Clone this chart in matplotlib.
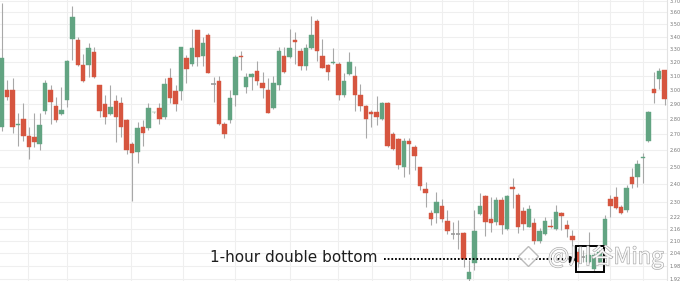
import matplotlib
matplotlib.use("Agg")
import matplotlib.pyplot as plt
import matplotlib.patheffects as pe
from matplotlib.patches import Rectangle
from matplotlib.lines import Line2D
from matplotlib.ticker import FixedLocator, NullLocator, FixedFormatter

# ---------------- data ----------------
opens = [2.75, 3.00, 3.00, 2.76, 2.80, 2.69, 2.685, 2.64, 2.85, 3.00,
         2.89, 2.83, 2.93, 3.38, 3.37, 3.18, 3.18, 3.28, 3.03, 2.90,
         2.83, 2.92, 2.905, 2.79, 2.64, 2.59, 2.75, 2.74, 2.843, 2.875,
         2.81, 3.08, 2.99, 2.99, 3.23, 3.19, 3.45, 3.25, 3.41, 3.038,
         3.06, 2.77, 2.79, 2.96, 3.25, 3.02, 3.09, 3.135, 3.05, 3.00,
         2.87, 3.03, 3.25, 3.24, 3.371, 3.29, 3.17, 3.31, 3.53, 3.25,
         3.18, 3.192, 3.19, 2.96, 3.11, 3.10, 2.96, 2.89, 2.847, 2.847,
         2.80, 2.91, 2.70, 2.67, 2.50, 2.66, 2.62, 2.50, 2.371, 2.241,
         2.241, 2.281, 2.201, 2.137, 2.137, 2.14, 1.918, 1.992, 2.237, 2.334,
         2.211, 2.197, 2.312, 2.158, 2.383, 2.34, 2.255, 2.171, 2.189, 2.101,
         2.134, 2.178, 2.158, 2.241, 2.18, 2.124, 2.047, 2.021, 1.998, 1.965,
         1.998, 2.08, 2.321, 2.33, 2.274, 2.259, 2.44, 2.44, 2.551, 2.658,
         3.004, 3.076, 3.142]
highs = [3.68, 3.07, 3.08, 2.84, 2.91, 2.75, 2.84, 2.84, 3.07, 3.03,
         2.95, 3.02, 3.22, 3.65, 3.395, 3.26, 3.35, 3.32, 3.035, 2.96,
         3.03, 2.96, 2.95, 2.80, 2.65, 2.78, 2.79, 2.905, 2.847, 2.905,
         3.08, 3.155, 3.03, 3.32, 3.255, 3.46, 3.455, 3.40, 3.43, 3.09,
         3.10, 2.78, 3.00, 3.255, 3.29, 3.12, 3.12, 3.21, 3.13, 3.08,
         3.10, 3.32, 3.32, 3.46, 3.435, 3.31, 3.34, 3.57, 3.54, 3.38,
         3.19, 3.31, 3.20, 3.12, 3.28, 3.17, 3.04, 2.893, 2.86, 2.955,
         2.915, 2.912, 2.716, 2.68, 2.675, 2.675, 2.633, 2.502, 2.414, 2.259,
         2.358, 2.321, 2.259, 2.197, 2.206, 2.145, 2.007, 2.259, 2.349, 2.34,
         2.33, 2.33, 2.327, 2.34, 2.434, 2.349, 2.273, 2.285, 2.215, 2.163,
         2.22, 2.21, 2.285, 2.25, 2.206, 2.154, 2.065, 2.055, 2.144, 2.041,
         2.055, 2.232, 2.34, 2.386, 2.285, 2.396, 2.492, 2.541, 2.582, 2.852,
         3.129, 3.157, 3.142]
lows = [2.72, 2.93, 2.71, 2.63, 2.66, 2.55, 2.62, 2.60, 2.83, 2.77,
        2.78, 2.825, 2.88, 3.22, 3.17, 3.055, 3.09, 3.08, 2.81, 2.77,
        2.825, 2.65, 2.685, 2.58, 2.31, 2.525, 2.63, 2.73, 2.837, 2.77,
        2.80, 2.905, 2.85, 2.93, 3.045, 3.17, 3.17, 3.17, 3.12, 2.915,
        2.76, 2.675, 2.775, 2.89, 3.14, 2.98, 3.00, 3.03, 2.94, 2.837,
        2.864, 3.00, 3.12, 3.23, 3.184, 3.14, 3.14, 3.30, 3.21, 3.155,
        3.07, 3.187, 2.93, 2.95, 3.105, 2.85, 2.85, 2.675, 2.75, 2.76,
        2.79, 2.62, 2.60, 2.49, 2.44, 2.46, 2.48, 2.367, 2.273, 2.18,
        2.192, 2.197, 2.137, 2.112, 2.063, 1.976, 1.912, 1.96, 2.232, 2.126,
        2.145, 2.18, 2.134, 2.154, 2.268, 2.142, 2.154, 2.168, 2.085, 2.088,
        2.129, 2.163, 2.154, 2.154, 2.121, 2.07, 1.976, 1.997, 1.993, 1.951,
        1.988, 2.07, 2.223, 2.262, 2.237, 2.25, 2.377, 2.386, 2.405, 2.652,
        2.907, 3.004, 2.893]
closes = [3.23, 2.95, 2.75, 2.77, 2.69, 2.62, 2.65, 2.76, 3.05, 2.915,
          2.79, 2.86, 3.21, 3.56, 3.18, 3.06, 3.31, 3.09, 2.85, 2.81,
          2.88, 2.81, 2.75, 2.60, 2.585, 2.74, 2.71, 2.875, 2.845, 2.80,
          3.04, 2.94, 2.90, 3.32, 3.15, 3.31, 3.24, 3.35, 3.12, 3.038,
          2.77, 2.70, 2.94, 3.24, 3.242, 3.09, 3.11, 3.06, 3.01, 2.841,
          3.05, 3.29, 3.13, 3.31, 3.36, 3.17, 3.31, 3.41, 3.29, 3.16,
          3.13, 3.202, 2.96, 3.06, 3.20, 2.96, 2.89, 2.80, 2.832, 2.81,
          2.91, 2.63, 2.61, 2.51, 2.66, 2.64, 2.567, 2.39, 2.349, 2.21,
          2.30, 2.211, 2.149, 2.137, 2.137, 2.015, 1.952, 2.15, 2.28, 2.197,
          2.189, 2.312, 2.18, 2.334, 2.371, 2.171, 2.185, 2.262, 2.101, 2.15,
          2.202, 2.168, 2.25, 2.228, 2.158, 2.107, 1.999, 2.021, 2.031, 2.031,
          2.045, 2.211, 2.28, 2.268, 2.243, 2.38, 2.402, 2.516, 2.561, 2.847,
          2.978, 3.137, 2.932]

price_ticks = [3.70, 3.60, 3.50, 3.40, 3.30, 3.20, 3.10, 3.00, 2.90, 2.80,
               2.70, 2.60, 2.50, 2.40, 2.30, 2.22, 2.16, 2.10, 2.04, 1.98, 1.92]
price_labels = ["%.2f" % v for v in price_ticks]

annotation_text = "1-hour double bottom"
watermark_text = "@川谷Ming"

# ---------------- style ----------------
GREEN = "#62a482"
RED = "#d6553f"
WICK = "#a8a8a8"
DOJI = "#9a9a9a"
GRID = "#efefef"

W, H = 681, 281
fig = plt.figure(figsize=(W / 100, H / 100), dpi=100)
fig.patch.set_facecolor("white")
ax = fig.add_axes([0, 0, 667 / W, 1])
ax.set_facecolor("white")
ax.set_yscale("log")
ax.set_ylim(1.911, 3.706)
ax.set_xlim(-0.31, 122.43)

n = len(opens)
# grid
vgrid = [4.9, 12.0, 23.8, 33.3, 42.9, 53.1, 61.9, 68.1, 75.1, 81.0, 86.8, 93.2, 106.1, 111.9, 118.0]
for v in vgrid:
    ax.axvline(v, color=GRID, lw=0.8, zorder=0)
for t in price_ticks:
    ax.axhline(t, color=GRID, lw=0.8, zorder=0)

for i in range(n):
    o, h, l, c = opens[i], highs[i], lows[i], closes[i]
    ax.vlines(i, l, h, color=WICK, lw=0.8, zorder=2)
    if abs(c - o) < 1e-9:
        ax.hlines(o, i - 0.4, i + 0.4, color=DOJI, lw=1.2, zorder=3)
        continue
    col = GREEN if c > o else RED
    lo, hi = min(o, c), max(o, c)
    ax.bar(i, hi - lo, bottom=lo, width=0.82, color=col, edgecolor=col,
           linewidth=0.3, zorder=3)

# axis styling
ax.yaxis.tick_right()
ax.yaxis.set_major_locator(FixedLocator(price_ticks))
ax.yaxis.set_major_formatter(FixedFormatter(price_labels))
ax.yaxis.set_minor_locator(NullLocator())
ax.tick_params(axis="y", which="both", length=0, pad=2, labelsize=3.6,
               labelcolor="#777777")
ax.xaxis.set_major_locator(NullLocator())
ax.xaxis.set_minor_locator(NullLocator())
for s in ["top", "left", "bottom"]:
    ax.spines[s].set_visible(False)
ax.spines["right"].set_color("#e2e2e2")
ax.spines["right"].set_linewidth(0.8)

# highlight box around the second bottom
box = Rectangle((105.75, 1.951), 5.1, 2.077 - 1.951, fill=False,
                edgecolor="black", lw=1.4, zorder=6)
ax.add_patch(box)

# annotation text + dotted pointer
fig.text(210 / W, 1 - 258 / H, annotation_text, fontsize=11, color="#1e1e1e",
         ha="left", va="center", family="DejaVu Sans")
yline = 1 - 259 / H
fig.add_artist(Line2D([384 / W, 571 / W], [yline, yline], transform=fig.transFigure,
                      color="black", lw=1.4, linestyle=(0, (0.9, 1.0)), zorder=7))
fig.add_artist(Line2D([572 / W], [yline], transform=fig.transFigure, marker=">",
                      markersize=4, color="black", lw=0, zorder=7))

# watermark (kept inside the plot area, clear of the price labels)
wm_effects = [pe.Stroke(linewidth=0.9, foreground="#a0a0a0"), pe.Normal()]
fig.text(548 / W, 1 - 257 / H, watermark_text, fontsize=16, color="white", alpha=0.9,
         ha="left", va="center", family=["Noto Sans CJK SC", "DejaVu Sans"],
         path_effects=wm_effects, zorder=8)
fig.add_artist(Line2D([528 / W], [1 - 256 / H], transform=fig.transFigure, marker="D",
                      markersize=10, markerfacecolor="white", markeredgecolor="#b0b0b0",
                      markeredgewidth=1.0, lw=0, alpha=0.85, zorder=8))

fig.savefig("out.png", dpi=100, facecolor="white")
